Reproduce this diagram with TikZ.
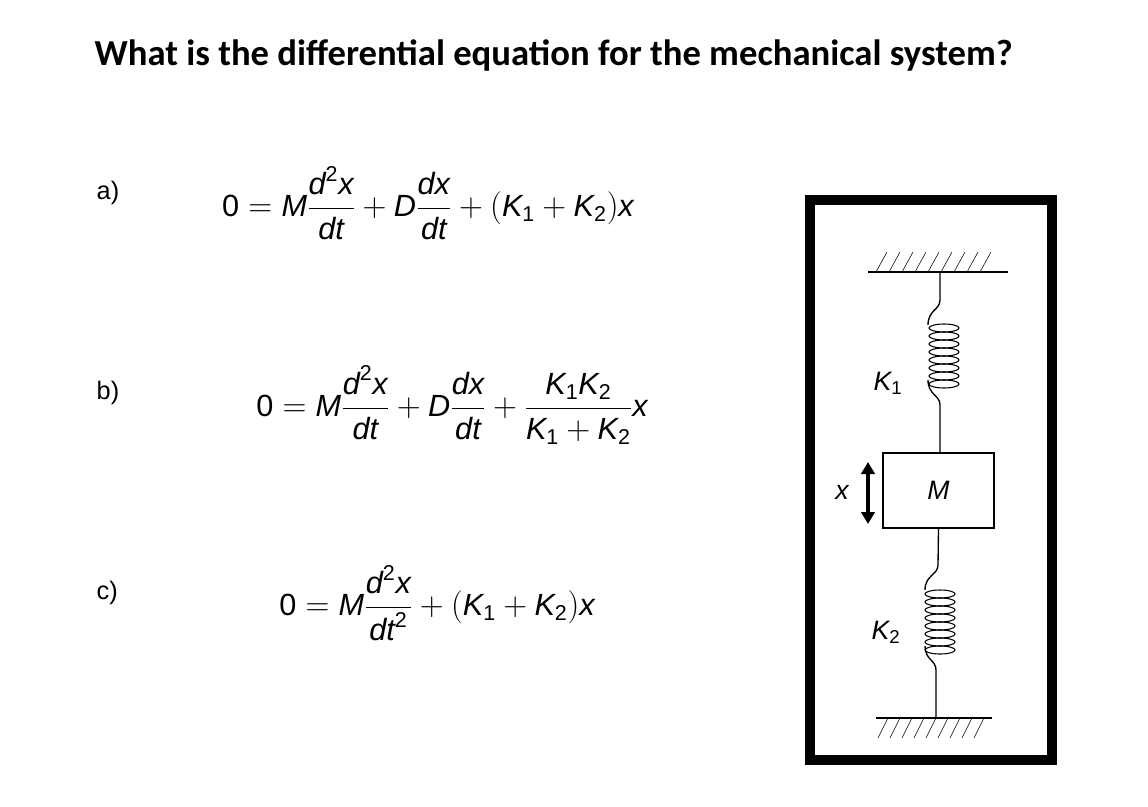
\documentclass[tikz,border=0pt]{standalone}
\usepackage{amsmath}
\usepackage{fontspec}
\setmainfont{Liberation Sans}
\newfontfamily\titlefont{Carlito}
\usetikzlibrary{arrows.meta}
\newcommand{\vv}[1]{\textnormal{\itshape #1}}
\newcommand{\nn}[1]{\textnormal{#1}}
\begin{document}
\begin{tikzpicture}[x=0.75pt,y=-0.75pt,
  lab/.style={anchor=west,font=\fontsize{19}{22}\selectfont},
  eq/.style={anchor=center,font=\fontsize{23}{28}\selectfont},
  kl/.style={font=\itshape\fontsize{20}{24}\selectfont},
  ln/.style={line width=1pt}]
\useasboundingbox (0,0) rectangle (1148,806);
\node[anchor=west,font=\titlefont\bfseries\fontsize{27.5}{32}\selectfont] (title) at (90,55) {What is the differential equation for the mechanical system?};
\node[lab] (la) at (92,193) {a)};
\node[lab] (lb) at (92,393) {b)};
\node[lab] (lc) at (92,593) {c)};
\node[eq] (ea) at (428,203) {$\nn{0}=\vv{M}\dfrac{\vv{d}^{\nn{2}}\vv{x}}{\vv{dt}}+\vv{D}\dfrac{\vv{dx}}{\vv{dt}}+(\vv{K}_{\nn{1}}+\vv{K}_{\nn{2}})\vv{x}$};
\node[eq] (eb) at (452,405) {$\nn{0}=\vv{M}\dfrac{\vv{d}^{\nn{2}}\vv{x}}{\vv{dt}}+\vv{D}\dfrac{\vv{dx}}{\vv{dt}}+\dfrac{\vv{K}_{\nn{1}}\vv{K}_{\nn{2}}}{\vv{K}_{\nn{1}}+\vv{K}_{\nn{2}}}\vv{x}$};
\node[eq] (ec) at (437,603) {$\nn{0}=\vv{M}\dfrac{\vv{d}^{\nn{2}}\vv{x}}{\vv{dt}^{\nn{2}}}+(\vv{K}_{\nn{1}}+\vv{K}_{\nn{2}})\vv{x}$};
% frame
\draw[line width=7.5pt] (810,200) rectangle (1052,760);
% top ground
\draw[ln] (868,272) -- (1008,272);
\foreach \i in {0,...,8} \draw (876+\i*13,272) -- (887+\i*13,252);
% bottom ground
\draw[ln] (876,718) -- (992,718);
\foreach \i in {0,...,8} \draw (878+\i*12,738) -- (888+\i*12,718);
% top spring
\draw[ln] (940,272) -- (940,300) .. controls (940,310) and (928,310) .. (928,325);
\foreach \i in {0,...,7} \draw[line width=0.8pt] (944,328+\i*8) ellipse (15 and 4);
\draw[ln] (928,380) .. controls (928,395) and (940,395) .. (940,405) -- (940,453);
% mass
\node[draw,line width=1pt,minimum width=111*0.75pt,minimum height=75*0.75pt,inner sep=0pt,kl] (m) at (938.5,490.5) {M};
% bottom spring
\draw[ln] (m.south) -- (938,565) .. controls (938,575) and (925,575) .. (925,590);
\foreach \i in {0,...,7} \draw[line width=0.8pt] (940,594+\i*8) ellipse (15 and 4);
\draw[ln] (925,646) .. controls (925,660) and (936,660) .. (936,670) -- (936,718);
\node[kl] (k1) at (888,383) {K$_{\nn{1}}$};
\node[kl] (k2) at (886,632) {K$_{\nn{2}}$};
\node[kl] (xx) at (842,492) {x};
\draw[line width=2.5pt,-{Triangle[length=9pt,width=10pt]}] (868,496) -- (868,462);
\draw[line width=2.5pt,-{Triangle[length=9pt,width=10pt]}] (868,490) -- (868,524);
\end{tikzpicture}
\end{document}
